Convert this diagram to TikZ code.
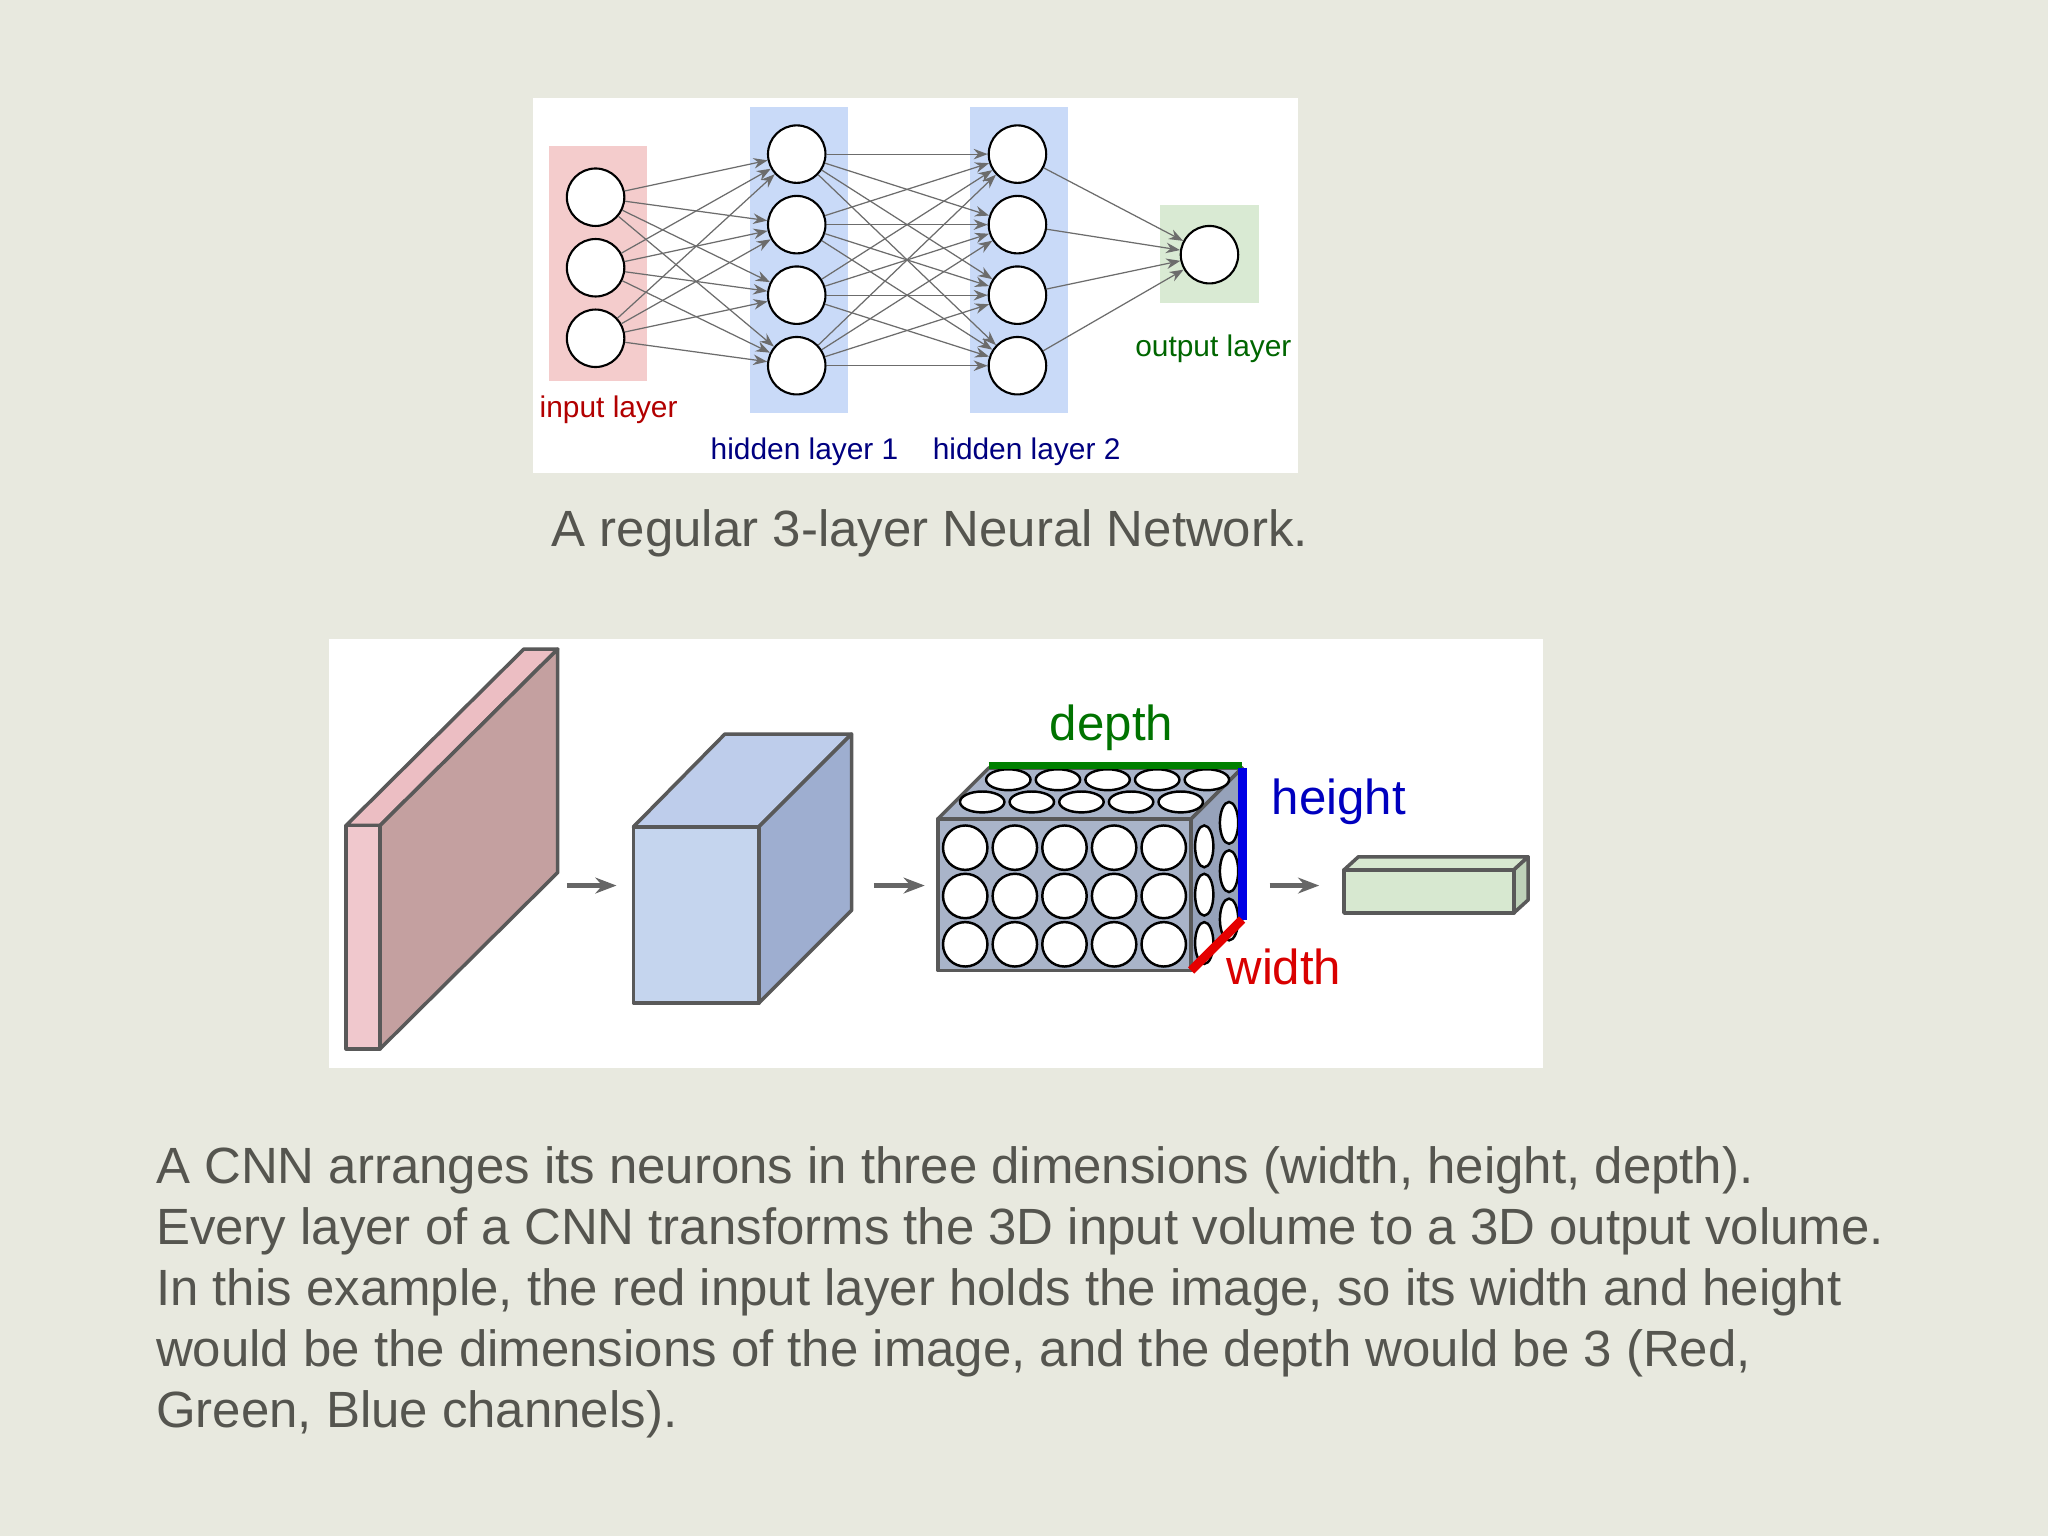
\documentclass[tikz,border=0pt]{standalone}
\usepackage{fontspec}
\setmainfont{Liberation Sans}
\usetikzlibrary{arrows.meta}
\definecolor{bg}{HTML}{E8E9DF}
\definecolor{tx}{HTML}{55554F}
\definecolor{lpink}{RGB}{244,204,204}
\definecolor{lblue}{RGB}{201,218,248}
\definecolor{lgreen}{RGB}{217,234,211}
\begin{document}
\begin{tikzpicture}[x=0.013061cm,y=-0.013061cm,
  neu/.style={circle,draw=black,fill=white,line width=0.6pt,minimum size=44*0.013061cm,inner sep=0},
  con/.style={draw=gray!85!black,line width=0.35pt,-{Stealth[length=4pt]}},
  arr/.style={draw=gray!80!black,line width=1.2pt,-{Stealth[length=6pt]}},
  face/.style={draw=gray!70!black,line width=1pt,line join=round},
  cell/.style={draw=black,fill=white,line width=0.7pt},
  lab/.style={font=\fontsize{8.5}{10}\selectfont},
  big/.style={font=\fontsize{14.5}{17.4}\selectfont}]
\fill[bg] (0,0) rectangle (1568,1176);
\useasboundingbox (0,0) rectangle (1568,1176);
% top network
\fill[white] (408,75) rectangle (994,362);
\fill[lpink] (420,112) rectangle (495,292);
\fill[lblue] (574,82) rectangle (649,316);
\fill[lblue] (743,82) rectangle (818,316);
\fill[lgreen] (888,157) rectangle (964,232);
\foreach \i/\y in {1/151,2/205,3/259} \node[neu] (a\i) at (456,\y) {};
\foreach \i/\y in {1/118,2/172,3/226,4/280} {\node[neu] (b\i) at (610,\y) {}; \node[neu] (c\i) at (779,\y) {};}
\node[neu] (d) at (926,195) {};
\foreach \i in {1,2,3} \foreach \j in {1,...,4} \draw[con] (a\i) -- (b\j);
\foreach \i in {1,...,4} \foreach \j in {1,...,4} \draw[con] (b\i) -- (c\j);
\foreach \i in {1,...,4} \draw[con] (c\i) -- (d);
\node[lab,text=red!70!black] (li) at (466,314) {input layer};
\node[lab,text=blue!50!black] (lh1) at (616,346) {hidden layer 1};
\node[lab,text=blue!50!black] (lh2) at (786,346) {hidden layer 2};
\node[lab,text=green!40!black] (lo) at (929,267) {output layer};
\node[big,text=tx] (cap) at (712,408) {A regular 3-layer Neural Network.};
% bottom CNN
\fill[white] (252,489) rectangle (1181,818);
% pink slab
\draw[face,fill={rgb,255:red,236;green,190;blue,195}] (265,632) -- (401,497) -- (427,497) -- (291,632) -- cycle;
\draw[face,fill={rgb,255:red,196;green,160;blue,160}] (291,632) -- (427,497) -- (427,668) -- (291,803) -- cycle;
\draw[face,fill={rgb,255:red,240;green,200;blue,205}] (265,632) rectangle (291,803);
\coordinate (p1) at (434,678); \coordinate (p2) at (472,678);
\draw[arr] (p1) -- (p2);
% blue cube
\draw[face,fill={rgb,255:red,190;green,205;blue,235}] (485,633) -- (555,562) -- (652,562) -- (581,633) -- cycle;
\draw[face,fill={rgb,255:red,158;green,174;blue,208}] (581,633) -- (652,562) -- (652,697) -- (581,768) -- cycle;
\draw[face,fill={rgb,255:red,197;green,213;blue,238}] (485,633) rectangle (581,768);
\coordinate (q1) at (669,678); \coordinate (q2) at (708,678);
\draw[arr] (q1) -- (q2);
% neuron cube
\draw[face,fill={rgb,255:red,169;green,180;blue,201}] (718,627) -- (757,588) -- (951,588) -- (912,627) -- cycle;
\draw[face,fill={rgb,255:red,150;green,162;blue,186}] (912,627) -- (951,588) -- (951,704) -- (912,743) -- cycle;
\draw[face,fill={rgb,255:red,169;green,180;blue,201}] (718,627) rectangle (912,743);
\foreach \x in {739,777,815,853,891} \foreach \y in {649,686,723} \draw[cell] (\x,\y) circle (17);
\foreach \x in {0,1,2,3,4} {
  \draw[cell] (752+38*\x,614) ellipse (17 and 8);
  \draw[cell] (772+38*\x,597) ellipse (17 and 8);}
\foreach \y in {0,1,2} {
  \draw[cell] (922,648+37*\y) ellipse (7 and 16);
  \draw[cell] (941,630+37*\y) ellipse (7 and 16);}
\draw[green!50!black,line width=2.2pt] (757,586) -- (951,586);
\draw[blue!90!black,line width=2.5pt] (951,588) -- (951,704);
\draw[red!90!black,line width=2.5pt] (951,704) -- (912,743);
\node[font=\fontsize{14}{16}\selectfont,text=green!45!black] (dl) at (851,557) {depth};
\node[font=\fontsize{14}{16}\selectfont,text=blue!75!black] (hl) at (1025,614) {height};
\node[font=\fontsize{14}{16}\selectfont,text=red!85!black] (wl) at (983,740) {width};
\coordinate (r1) at (972,678); \coordinate (r2) at (1010,678);
\draw[arr] (r1) -- (r2);
% output box
\draw[face,fill={rgb,255:red,215;green,232;blue,208}] (1029,666) -- (1040,656) -- (1170,656) -- (1159,666) -- cycle;
\draw[face,fill={rgb,255:red,190;green,210;blue,185}] (1159,666) -- (1170,656) -- (1170,689) -- (1159,699) -- cycle;
\draw[face,fill={rgb,255:red,215;green,232;blue,208}] (1029,666) rectangle (1159,699);
% paragraph
\node[big,text=tx,anchor=north west,align=left,inner sep=0] (para) at (119,877) {A CNN arranges its neurons in three dimensions (width, height, depth).\\Every layer of a CNN transforms the 3D input volume to a 3D output volume.\\In this example, the red input layer holds the image, so its width and height\\would be the dimensions of the image, and the depth would be 3 (Red,\\Green, Blue channels).};
\end{tikzpicture}
\end{document}
